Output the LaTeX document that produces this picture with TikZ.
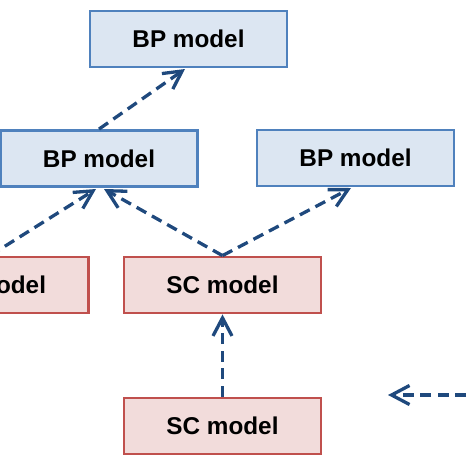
\documentclass[tikz,border=0pt]{standalone}
\usepackage{fontspec}
\setmainfont{Liberation Sans}
\usetikzlibrary{arrows.meta}
\definecolor{bpfill}{RGB}{220,230,242}
\definecolor{bpdraw}{RGB}{79,129,189}
\definecolor{scfill}{RGB}{242,220,219}
\definecolor{scdraw}{RGB}{192,80,77}
\definecolor{arr}{RGB}{31,73,125}
\begin{document}
\begin{tikzpicture}[x=1pt,y=-1pt,
  bp/.style={draw=bpdraw,fill=bpfill,line width=2.8pt,minimum width=197pt,minimum height=56pt,inner sep=0pt,font=\fontsize{24.3}{28}\selectfont\bfseries},
  sc/.style={draw=scdraw,fill=scfill,line width=2.8pt,minimum width=197pt,minimum height=56pt,inner sep=0pt,font=\fontsize{24.3}{28}\selectfont\bfseries},
  dep/.style={draw=arr,line width=3.3pt,dash pattern=on 11pt off 6.5pt,-{Straight Barb[length=18pt,width=19pt,line width=3.3pt]}}]
\useasboundingbox (0,0) rectangle (474,474);
\node[bp] (top) at (188.5,39) {BP model};
\node[bp] (bpl) at (99,158.5) {BP model};
\node[bp] (bpr) at (355.5,158) {BP model};
\node[sc] (scl) at (-10,285) {SC model};
\node[sc] (scm) at (222.5,285) {SC model};
\node[sc] (scb) at (222.5,426) {SC model};
\coordinate (bplA) at (96,189);
\coordinate (bplB) at (104,189);
\coordinate (topA) at (185,69);
\coordinate (bprA) at (351,188);
\coordinate (lgA) at (466,395);
\coordinate (lgB) at (388,395);
\draw[dep] (bpl.north) -- (topA);
\draw[dep] (scl.north) -- (bplA);
\draw[dep] (scm.north) -- (bplB);
\draw[dep] (scm.north) -- (bprA);
\draw[dep] (scb.north) -- (scm.south);
\draw[dep] (lgA) -- (lgB);
\end{tikzpicture}
\end{document}
